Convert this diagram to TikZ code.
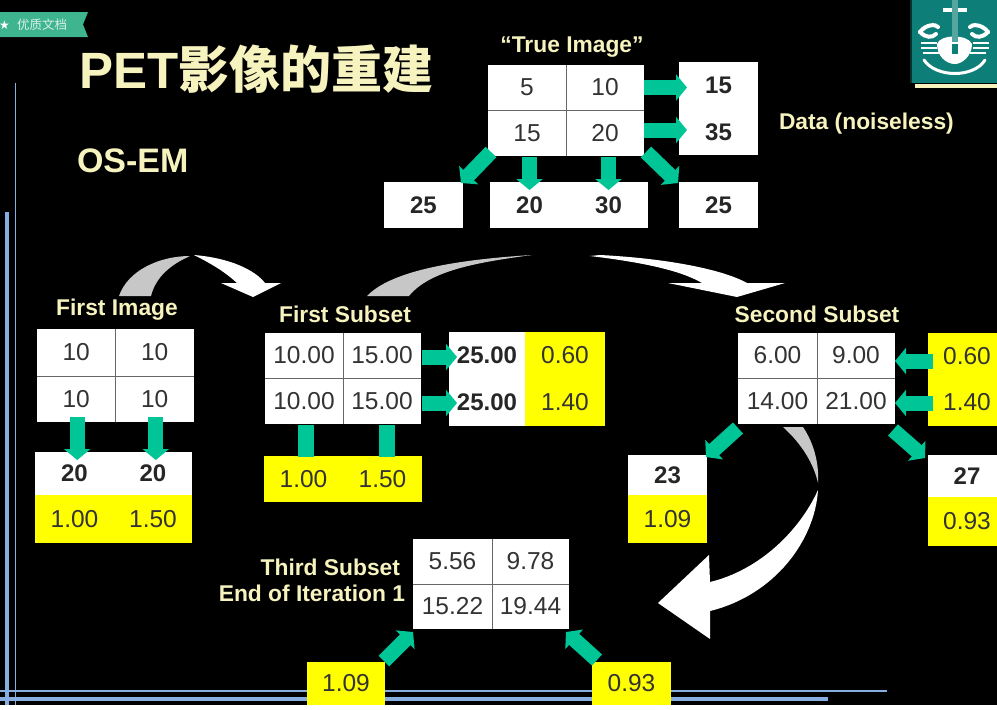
\documentclass[tikz,border=0pt]{standalone}
\usepackage{fontspec}
\setmainfont{Liberation Sans}
\newfontfamily\cjk{Noto Sans CJK SC}
\newfontfamily\dejavu{DejaVu Sans}
\usetikzlibrary{arrows.meta,calc}
\definecolor{cream}{HTML}{F7F3BE}
\definecolor{teal1}{HTML}{00C596}
\definecolor{linebl}{HTML}{86AEE0}
\definecolor{ylw}{HTML}{FFFF00}
\definecolor{ink}{HTML}{333333}
\definecolor{logoT}{HTML}{0E7F78}
\definecolor{badge}{HTML}{3FB58F}
\tikzset{
  every node/.style={inner sep=0pt,outer sep=0pt,font=\fontsize{24.5}{28}\selectfont,text=ink},
  wc/.style={fill=white},
  yc/.style={fill=ylw},
  bd/.style={font=\fontsize{24}{28}\selectfont\bfseries,text=black!85},
  lab/.style={font=\fontsize{22.8}{26}\selectfont\bfseries,text=cream},
  gridln/.style={draw=black!60,line width=0.9pt},
  ga/.style={draw=teal1,line width=15pt,-{Triangle[length=11pt,width=26pt,color=teal1]}},
  gb/.style={draw=teal1,line width=16pt},
  bl/.style={draw=linebl},
}
\newcommand{\bcell}[7]{%
  \pgfmathsetmacro\cw{#4-#2}\pgfmathsetmacro\ch{#5-#3}%
  \pgfmathsetmacro\cx{(#2+#4)/2}\pgfmathsetmacro\cy{(#3+#5)/2}%
  \node[#6,minimum width=\cw pt,minimum height=\ch pt] (#1) at (\cx,\cy) {#7};}
\begin{document}
\begin{tikzpicture}[x=1pt,y=-1pt]
\fill[black] (0,0) rectangle (997,710);
\useasboundingbox (0,0) rectangle (997,710);
% frame lines
\draw[bl,line width=1.4pt] (15.5,83) -- (15.5,705);
\draw[bl,line width=3.5pt] (7,212) -- (7,705);
\draw[bl,line width=1.5pt] (0,691) -- (887,691);
\draw[bl,line width=3.5pt] (0,699) -- (828,699);
\fill[white] (0,705) rectangle (997,710);
% badge
\fill[badge] (0,12) -- (88,12) -- (83,24.5) -- (88,37) -- (0,37) -- cycle;
\node[anchor=west,font=\dejavu\fontsize{12}{14}\selectfont,text=white] (bstar) at (-1,25) {★};
\node[anchor=west,font=\cjk\fontsize{12.5}{14}\selectfont,text=white!80!badge] (btxt) at (17,25) {优质文档};
% logo
\fill[logoT] (910,0) rectangle (997,83);
\fill[cream] (915,84) rectangle (997,88);
\fill[black!60!logoT] (910,0) rectangle (912,83);
\begin{scope}[white,line cap=round]
\fill (937,44) .. controls (940,34) and (968,34) .. (972,44) .. controls (972,56) and (962,64) .. (955,64) .. controls (946,64) and (937,56) .. (937,44) -- cycle;
\draw[line width=4pt] (920,32) .. controls (926,24) and (936,24) .. (938,27);
\draw[line width=4pt] (920,32) .. controls (926,38) and (932,38) .. (936,34);
\draw[line width=4pt] (988,32) .. controls (982,24) and (972,24) .. (970,27);
\draw[line width=4pt] (988,32) .. controls (982,38) and (976,38) .. (972,34);
\draw[line width=2pt,line cap=butt] (921,43) -- (937,43) (921,48) -- (937,48) (923,53) -- (939,53);
\draw[line width=2pt,line cap=butt] (973,43) -- (989,43) (973,48) -- (989,48) (970,53) -- (986,53);
\draw[line width=3pt] (924,60) .. controls (936,78) and (974,78) .. (985,60);
\fill (943,8) rectangle (967,12);
\end{scope}
\fill[logoT] (952,44) rectangle (958,54);
\fill[white!30!logoT] (952,0) rectangle (958,42);
% headings
\node[anchor=base west,font=\fontsize{51}{54}\selectfont\bfseries,text=cream] (title) at (79,88) {PET{\cjk\fontsize{51}{54}\selectfont 影像的重建}};
\node[anchor=base west,font=\fontsize{34}{36}\selectfont\bfseries,text=cream] (osem) at (77,172) {OS-EM};
\node[lab] (ltrue) at (572,47) {“True Image”};
\node[lab,anchor=west] (ldata) at (779,124) {Data (noiseless)};
\node[lab] (lfirst) at (117,310) {First Image};
\node[lab] (lsub1) at (345,314) {First Subset};
\node[lab] (lsub2) at (817,314) {Second Subset};
\node[lab,anchor=east] (lsub3) at (400,567) {Third Subset};
\node[lab,anchor=east] (lend) at (405,593) {End of Iteration 1};
% true image
\bcell{t11}{488}{65}{566}{110}{wc}{5}
\bcell{t12}{566}{65}{644}{110}{wc}{10}
\bcell{t21}{488}{110}{566}{156}{wc}{15}
\bcell{t22}{566}{110}{644}{156}{wc}{20}
\draw[gridln] (t11.north east) -- (t21.south east) (t11.south west) -- (t12.south east);
\bcell{d1}{679}{62}{758}{109}{wc,bd}{15}
\bcell{d2}{679}{109}{758}{155}{wc,bd}{35}
\bcell{p1}{384}{182}{463}{228}{wc,bd}{25}
\bcell{p2}{490}{182}{569}{228}{wc,bd}{20}
\bcell{p3}{569}{182}{648}{228}{wc,bd}{30}
\bcell{p4}{679}{182}{758}{228}{wc,bd}{25}
\draw[ga] (t12.east) -- ++(43,0);
\draw[ga] ($(t22.east)+(0,-3)$) -- ++(43,0);
\draw[ga] ($(t21.south west)+(3,-4)$) -- ($(p1.north east)+(-2,1)$);
\draw[ga] ($(p2.north)+(0,-25)$) -- ($(p2.north)+(0,8)$);
\draw[ga] ($(p3.north)+(0,-25)$) -- ($(p3.north)+(0,8)$);
\draw[ga] ($(t22.south east)+(2,-4)$) -- ($(p4.north west)+(-1,1)$);
% first image
\bcell{a11}{37}{329}{115.5}{376}{wc}{10}
\bcell{a12}{115.5}{329}{194}{376}{wc}{10}
\bcell{a21}{37}{376}{115.5}{422}{wc}{10}
\bcell{a22}{115.5}{376}{194}{422}{wc}{10}
\draw[gridln] (a11.north east) -- (a21.south east) (a11.south west) -- (a12.south east);
\bcell{a31}{35}{452}{114}{495}{wc,bd}{20}
\bcell{a32}{114}{452}{192}{495}{wc,bd}{20}
\bcell{a41}{35}{495}{114}{543}{yc}{1.00}
\bcell{a42}{114}{495}{192}{543}{yc}{1.50}
\draw[ga] ($(a21.south)+(1,-5)$) -- ($(a21.south)+(1,38)$);
\draw[ga] ($(a22.south)+(1,-5)$) -- ($(a22.south)+(1,38)$);
% first subset
\bcell{b11}{265}{333}{343}{378}{wc}{10.00}
\bcell{b12}{343}{333}{421}{378}{wc}{15.00}
\bcell{b21}{265}{378}{343}{424}{wc}{10.00}
\bcell{b22}{343}{378}{421}{424}{wc}{15.00}
\draw[gridln] (b11.north east) -- (b21.south east) (b11.south west) -- (b12.south east);
\bcell{c11}{449}{332}{525}{379}{wc,bd}{25.00}
\bcell{c12}{525}{332}{605}{379}{yc}{0.60}
\bcell{c21}{449}{379}{525}{426}{wc,bd}{25.00}
\bcell{c22}{525}{379}{605}{426}{yc}{1.40}
\bcell{e1}{264}{456}{343}{502}{yc}{1.00}
\bcell{e2}{343}{456}{422}{502}{yc}{1.50}
\draw[ga] ($(b12.east)+(1,1.5)$) -- ++(35,0);
\draw[ga] ($(b22.east)+(1,2)$) -- ++(35,0);
\draw[gb] ($(b21.south)+(2,1)$) -- ($(e1.north)+(2.5,1)$);
\draw[gb] ($(b22.south)+(5,1)$) -- ($(e2.north)+(4.5,1)$);
% second subset
\bcell{s11}{738}{333}{817}{378}{wc}{6.00}
\bcell{s12}{817}{333}{895}{378}{wc}{9.00}
\bcell{s21}{738}{378}{817}{424}{wc}{14.00}
\bcell{s22}{817}{378}{895}{424}{wc}{21.00}
\draw[gridln] (s11.north east) -- (s21.south east) (s11.south west) -- (s12.south east);
\bcell{f1}{928}{333}{1006}{379}{yc}{0.60}
\bcell{f2}{928}{379}{1006}{426}{yc}{1.40}
\draw[ga] ($(f1.west)+(5,5)$) -- ($(s12.east)+(0,5.5)$);
\draw[ga] ($(f2.west)+(5,0.5)$) -- ($(s22.east)+(0,2)$);
\bcell{g1}{628}{455}{707}{495}{wc,bd}{23}
\bcell{g2}{628}{495}{707}{543}{yc}{1.09}
\bcell{h1}{928}{455}{1006}{497}{wc,bd}{27}
\bcell{h2}{928}{497}{1006}{546}{yc}{0.93}
\draw[ga] ($(s21.south west)+(0,4)$) -- ($(g1.north east)+(-1,2)$);
\draw[ga] ($(s22.south east)+(-2,6)$) -- ($(h1.north west)+(-3,3)$);
% third subset
\bcell{r11}{413}{539}{492}{584}{wc}{5.56}
\bcell{r12}{492}{539}{569}{584}{wc}{9.78}
\bcell{r21}{413}{584}{492}{629}{wc}{15.22}
\bcell{r22}{492}{584}{569}{629}{wc}{19.44}
\draw[gridln] (r11.north east) -- (r21.south east) (r11.south west) -- (r12.south east);
\bcell{u1}{307}{662}{385}{705}{yc}{1.09}
\bcell{u2}{592}{662}{671}{705}{yc}{0.93}
\draw[ga] ($(u1.north east)+(-1,-1)$) -- ($(r21.south west)+(0,3)$);
\draw[ga] ($(u2.north west)+(5,-2)$) -- ($(r22.south east)+(-3,3)$);
% curved big arrows
\fill[black!22] (119,296) .. controls (128,270) and (160,256) .. (190,256) .. controls (172,264) and (156,276) .. (151,296) -- cycle;
\fill[white] (194,255) .. controls (230,258) and (255,270) .. (265,283) -- (281,283) -- (253,297) -- (221,283) -- (237,283) .. controls (225,272) and (212,264) .. (194,255) -- cycle;
\fill[black!22] (367,296) .. controls (390,272) and (450,260) .. (532,255) .. controls (480,262) and (430,270) .. (409,296) -- cycle;
\fill[white] (600,255) .. controls (660,258) and (720,268) .. (747,283) -- (785,283) -- (737,297) -- (668,283) -- (702,283) .. controls (680,270) and (640,262) .. (590,256) -- cycle;
\fill[black!22] (783,427) -- (803,427) .. controls (815,445) and (819,465) .. (818,483) .. controls (814,465) and (803,445) .. (783,427) -- cycle;
\fill[white] (818,490) .. controls (815,540) and (775,595) .. (710,611) -- (710,639) -- (658,603) -- (709,555) -- (710,582) .. controls (760,570) and (800,530) .. (818,490) -- cycle;
\end{tikzpicture}
\end{document}
